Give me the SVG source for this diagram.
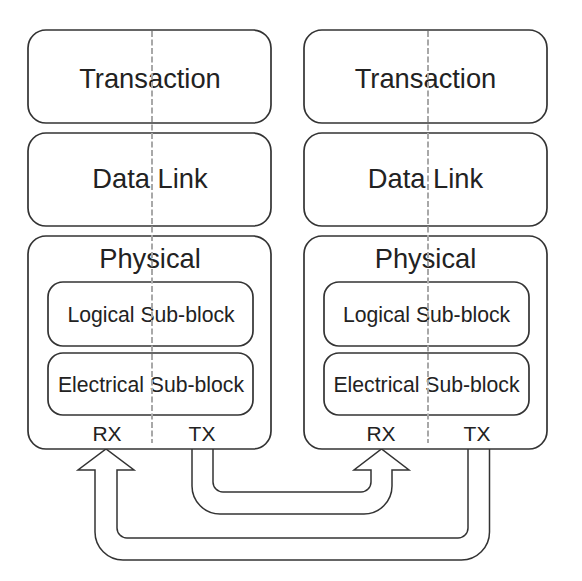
<svg xmlns="http://www.w3.org/2000/svg" width="582" height="581" viewBox="0 0 582 581">
<style>
.box{fill:#fff;stroke:#333;stroke-width:1.7}
.arrow{fill:#fff;stroke:#333;stroke-width:1.5;stroke-linejoin:miter}
.t{font-family:"Liberation Sans",Arial,sans-serif;fill:#222;text-anchor:middle}
.big{font-size:27.3px}
.mid{font-size:21.2px}
.io{font-size:21px}
.dash{stroke:#a8a8a8;stroke-width:2;stroke-dasharray:6 2.5;fill:none}
</style>
<rect width="582" height="581" fill="#fff"/>
<g id="connectors">
<path class="arrow" d="M489.5,449 V532 A28,28 0 0 1 461.5,560 H123 A28,28 0 0 1 95,532 V470 H78 L106,449 L134,470 H117 V528 A10,10 0 0 0 127,538 H458 A10,10 0 0 0 468,528 V449"/>
<path class="arrow" d="M192,449 V486 A28,28 0 0 0 220,514 H364 A28,28 0 0 0 392,486 V470 H409 L381.5,449 L354,470 H371 V482 A10,10 0 0 1 361,492 H223 A10,10 0 0 1 213,482 V449"/>
</g>
<g id="left-transaction"><rect class="box" x="28" y="30" width="243" height="93" rx="18"/><text class="t big" x="150" y="88">Transaction</text></g>
<g id="left-datalink"><rect class="box" x="28" y="133" width="243" height="93" rx="18"/><text class="t big" x="150" y="188">Data Link</text></g>
<g id="left-physical"><rect class="box" x="28" y="236" width="243" height="213" rx="18"/><text class="t big" x="150" y="268">Physical</text>
<text class="t io" x="107" y="441">RX</text><text class="t io" x="202" y="441">TX</text></g>
<g id="left-logical"><rect class="box" x="48" y="282" width="205" height="64" rx="15"/><text class="t mid" x="151" y="322">Logical Sub-block</text></g>
<g id="left-electrical"><rect class="box" x="48" y="353" width="205" height="62" rx="15"/><text class="t mid" x="151" y="392">Electrical Sub-block</text></g>
<g id="right-transaction"><rect class="box" x="304" y="30" width="243" height="93" rx="18"/><text class="t big" x="425.5" y="88">Transaction</text></g>
<g id="right-datalink"><rect class="box" x="304" y="133" width="243" height="93" rx="18"/><text class="t big" x="425.5" y="188">Data Link</text></g>
<g id="right-physical"><rect class="box" x="304" y="236" width="243" height="213" rx="18"/><text class="t big" x="425.5" y="268">Physical</text>
<text class="t io" x="381" y="441">RX</text><text class="t io" x="477" y="441">TX</text></g>
<g id="right-logical"><rect class="box" x="324" y="282" width="205" height="64" rx="15"/><text class="t mid" x="426.5" y="322">Logical Sub-block</text></g>
<g id="right-electrical"><rect class="box" x="324" y="353" width="205" height="62" rx="15"/><text class="t mid" x="426.5" y="392">Electrical Sub-block</text></g>
<g id="dividers">
<line class="dash" x1="152" y1="31" x2="152" y2="443"/>
<line class="dash" x1="428" y1="31" x2="428" y2="443"/>
</g>
</svg>
